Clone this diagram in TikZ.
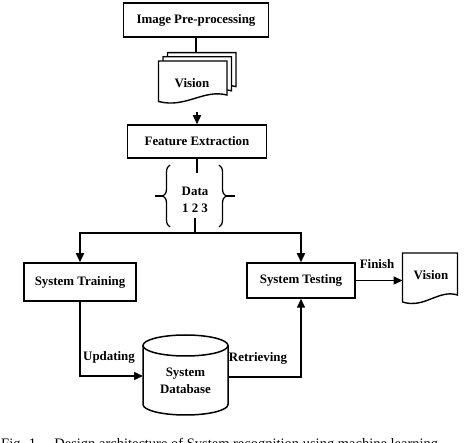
\documentclass[tikz,border=0pt]{standalone}
\usepackage{fontspec}
\setmainfont{Liberation Serif}
\usetikzlibrary{arrows.meta,decorations.pathreplacing,calc}
\begin{document}
\begin{tikzpicture}[x=1pt,y=-1pt,
  every node/.style={font=\bfseries\fontsize{12.9}{16.5}\selectfont, inner sep=0pt},
  box/.style={draw, line width=1.5pt, fill=white, align=center},
  conn/.style={line width=1.5pt},
  arr/.style={conn, -{Triangle[length=9pt,width=8pt]}},
  docsh/.style={draw, line width=1.4pt, fill=white, line join=miter},
  brc/.style={line width=1.3pt, decorate, decoration={brace, amplitude=7pt}},
  lbl/.style={align=center}]
\useasboundingbox (0,0) rectangle (474,443);
\fill[white] (0,0) rectangle (474,443);

% boxes
\node[box, minimum width=145pt, minimum height=34pt] (pre) at (196,20) {Image Pre-processing};
\node[box, minimum width=139pt, minimum height=33pt] (fe) at (197,141.5) {Feature Extraction};
\node[box, minimum width=112pt, minimum height=38pt] (train) at (80,282) {System Training};
\node[box, minimum width=108pt, minimum height=35pt] (test) at (301,280.5) {System Testing};

% stacked documents
\begin{scope}[shift={(9,-8.4)}]
  \filldraw[docsh] (158.5,61) -- (227,61) -- (227,95) .. controls (203,89) and (185.9,108.5) .. (158.5,101.5) -- cycle;
\end{scope}
\begin{scope}[shift={(4.5,-4.2)}]
  \filldraw[docsh] (158.5,61) -- (227,61) -- (227,95) .. controls (203,89) and (185.9,108.5) .. (158.5,101.5) -- cycle;
\end{scope}
\filldraw[docsh] (158.5,61) -- (227,61) -- (227,95) .. controls (203,89) and (185.9,108.5) .. (158.5,101.5) -- cycle;
\node[lbl] (vis1) at (192,83) {Vision};
\coordinate (stacktop) at (196,52.6);
\coordinate (stackbot) at (197,112);

% output document
\filldraw[docsh] (402.5,253) -- (457.5,253) -- (457.5,295) .. controls (438.5,289) and (424.5,309) .. (402.5,302) -- cycle;
\node[lbl] (vis2) at (431,275) {Vision};
\coordinate (vis2in) at (402.5,280.5);

% data with braces
\node[lbl] (data) at (195,200) {Data\\1 2 3};
\draw[brc] (170,227) -- (170,165);
\draw[brc] (219,165) -- (219,227);
\draw[line width=1.3pt] (163,196) -- (155,196);
\draw[line width=1.3pt] (226,196) -- (235,196);
\coordinate (dtop) at (197,173);
\coordinate (dbot) at (195,218);
\coordinate (split) at (195,233);

% database cylinder
\draw[line width=1.5pt, fill=white] (143,345.5) -- (143,404.5) arc[start angle=180, end angle=360, x radius=42.5pt, y radius=10.5pt] -- (228,345.5);
\draw[line width=1.5pt] (185.5,345.5) ellipse[x radius=42.5pt, y radius=10.5pt];
\node[lbl] (db) at (185.5,381) {System\\Database};
\coordinate (dbin) at (143,376);
\coordinate (dbout) at (228,377);

% connectors
\draw[conn] (pre.south) -- (stacktop);
\draw[arr] (stackbot) -- (fe.north);
\draw[conn] (fe.south) -- (dtop);
\draw[conn] (dbot) -- (split);
\draw[arr] (split) -| (train.north);
\draw[arr] (split) -| (test.north);
\draw[arr] (train.south) |- (dbin);
\draw[arr] (dbout) -| (test.south);
\draw[arr] (test.east) -- (vis2in);

% labels
\node[lbl] (finish) at (377,264) {Finish};
\node[lbl] (upd) at (109,357) {Updating};
\node[lbl] (ret) at (258,358) {Retrieving};

% caption (cut off at the bottom edge, as in the reference)
\begin{scope}
  \clip (0,0) rectangle (474,443);
  \node[anchor=base west, font=\fontsize{14.5}{17}\selectfont] (cap) at (1,448.5) {Fig. 1.\quad Design architecture of System recognition using machine learning};
\end{scope}
\end{tikzpicture}
\end{document}
